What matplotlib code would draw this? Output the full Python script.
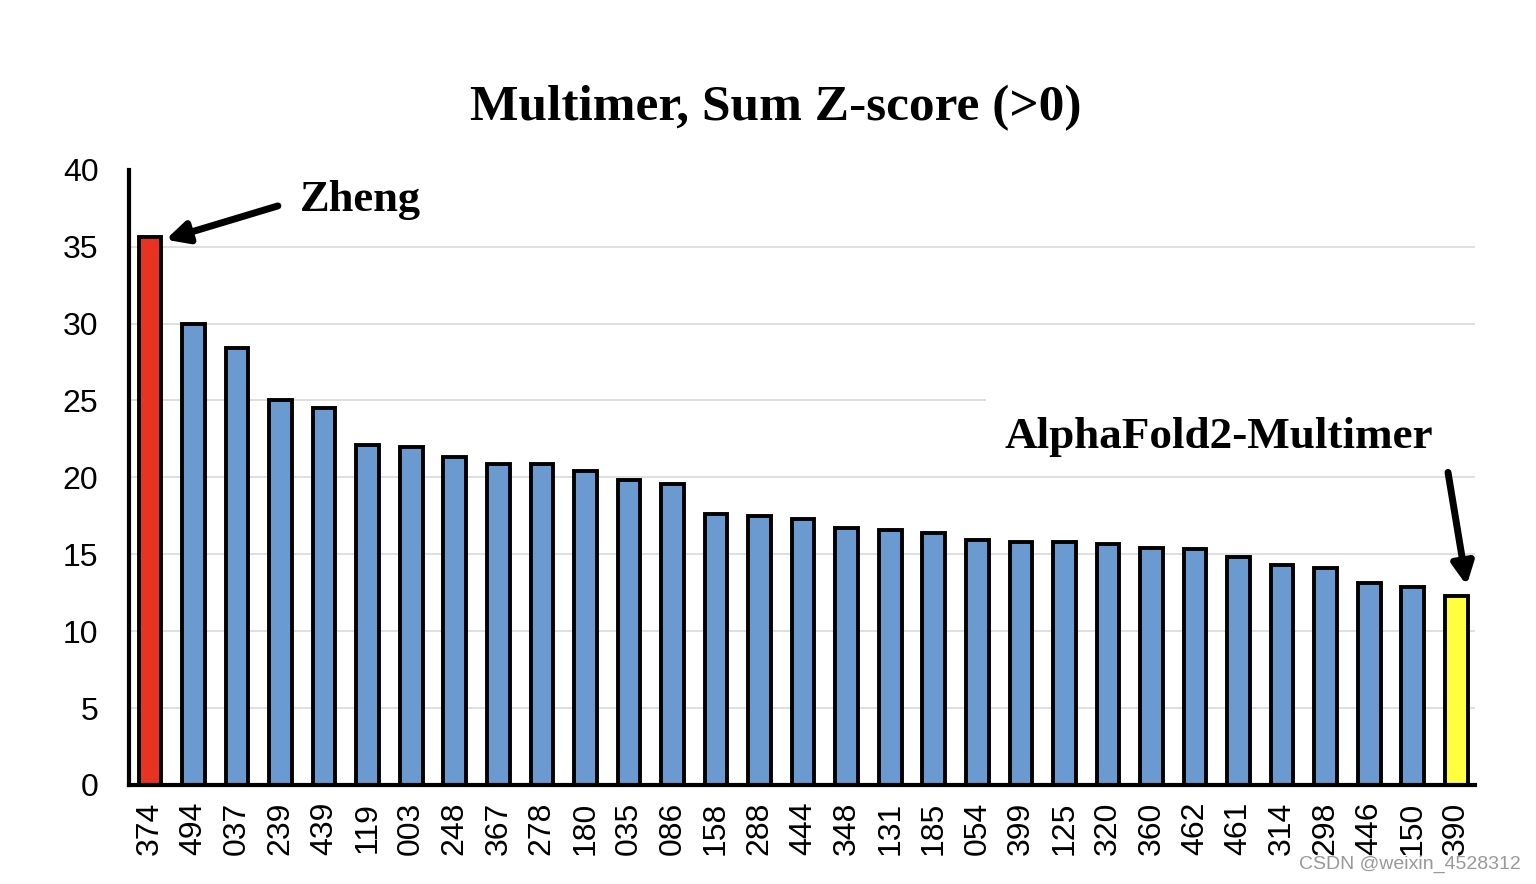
import matplotlib.pyplot as plt
from matplotlib.patches import Rectangle

labels = ['374', '494', '037', '239', '439', '119', '003', '248', '367', '278',
          '180', '035', '086', '158', '288', '444', '348', '131', '185', '054',
          '399', '125', '320', '360', '462', '461', '314', '298', '446', '150', '390']
scores = [35.6, 30.0, 28.4, 25.0, 24.5, 22.1, 22.0, 21.3, 20.9, 20.9,
          20.4, 19.8, 19.6, 17.6, 17.5, 17.3, 16.7, 16.6, 16.4, 15.9,
          15.8, 15.8, 15.7, 15.4, 15.35, 14.8, 14.3, 14.1, 13.1, 12.9, 12.3]

colors = ['#6A9ACF'] * len(scores)
colors[0] = '#E83323'
colors[-1] = '#FFFF40'

fig = plt.figure(figsize=(15.36, 8.84), dpi=100)
ax = fig.add_axes([0.084, 0.112, 0.876, 0.696])

x = range(len(scores))
ax.bar(x, scores, width=0.52, color=colors, edgecolor='black', linewidth=2.8, zorder=3)

ax.set_xlim(-0.48, 30.42)
ax.set_ylim(0, 40)
ax.set_yticks(range(0, 41, 5))
ax.set_xticks(list(x))
ax.set_xticklabels(labels, rotation=90, fontsize=23, family='Liberation Sans')
for t in ax.get_yticklabels():
    t.set_fontsize(23)
    t.set_family('Liberation Sans')
ax.tick_params(axis='both', length=0)
ax.tick_params(axis='y', pad=22)
ax.tick_params(axis='x', pad=12)

ax.grid(axis='y', color='#D9D9D9', linewidth=1.2, zorder=0)
ax.yaxis.get_gridlines()[-1].set_visible(False)
for s in ['top', 'right']:
    ax.spines[s].set_visible(False)
for s in ['left', 'bottom']:
    ax.spines[s].set_linewidth(3)
    ax.spines[s].set_color('black')
ax.spines['bottom'].set_zorder(4)

fig.text(0.505, 0.878, 'Multimer, Sum Z-score (>0)', ha='center', va='center',
         fontsize=37, fontweight='bold', family='Liberation Serif')

ax.annotate('', xy=(0.3, 35.4), xytext=(3.0, 37.7),
            arrowprops=dict(arrowstyle='-|>,head_length=1.3,head_width=0.65',
                            color='black', lw=5))
ax.text(3.45, 38.0, 'Zheng', fontsize=32, fontweight='bold',
        family='Liberation Serif', va='center', ha='left')

# white box behind the label hides the 25 grid line
ax.add_patch(Rectangle((19.2, 21.2), 11.3, 4.3, facecolor='white',
                       edgecolor='none', zorder=2))
ax.text(24.55, 22.6, 'AlphaFold2-Multimer', fontsize=32.5, fontweight='bold',
        family='Liberation Serif', va='center', ha='center', zorder=5)
ax.annotate('', xy=(30.25, 12.8), xytext=(29.8, 20.5),
            arrowprops=dict(arrowstyle='-|>,head_length=1.3,head_width=0.65',
                            color='black', lw=5), zorder=6)

fig.text(0.99, 0.022, 'CSDN @weixin_4528312', ha='right', va='center',
         fontsize=14, color='#999999', family='Liberation Sans')

fig.savefig('out.png', dpi=100)
